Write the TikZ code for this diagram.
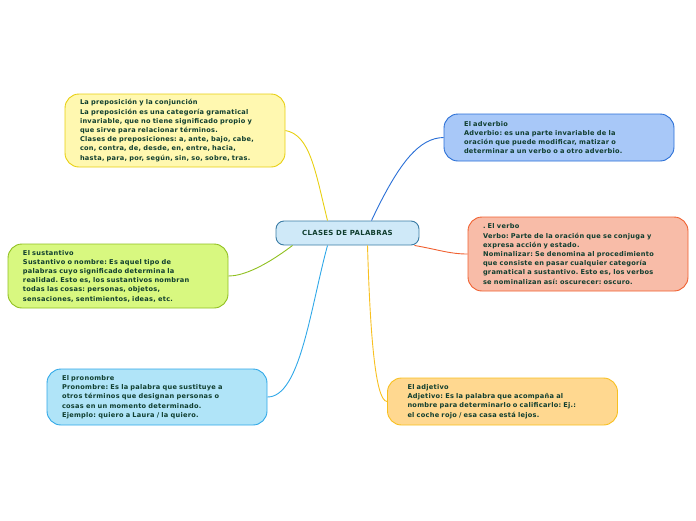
\documentclass[tikz,border=0pt]{standalone}
\usepackage{fontspec}
\setmainfont{DejaVu Sans}[LetterSpace=4]
\begin{document}
\frenchspacing
\begin{tikzpicture}[x=1pt,y=-1pt,
 box/.style={draw,line width=0.9pt,rounded corners=14pt,font=\bfseries\fontsize{6.6}{9.2}\selectfont,align=left,inner xsep=15pt,inner ysep=3pt,anchor=center},
 link/.style={line width=0.9pt}]
\useasboundingbox (0,0) rectangle (696,520);
\definecolor{tc}{HTML}{0F3D2E}
\definecolor{cfill}{HTML}{CFE9F8}\definecolor{cdraw}{HTML}{3A7CA5}
\definecolor{pfill}{HTML}{FFF8B0}\definecolor{pdraw}{HTML}{E8CF10}
\definecolor{afill}{HTML}{A8C8F8}\definecolor{adraw}{HTML}{2A6FD6}
\definecolor{vfill}{HTML}{F8BCA8}\definecolor{vdraw}{HTML}{F06030}
\definecolor{sfill}{HTML}{D8F880}\definecolor{sdraw}{HTML}{90C020}
\definecolor{rfill}{HTML}{B0E4F8}\definecolor{rdraw}{HTML}{30A8E8}
\definecolor{jfill}{HTML}{FFD890}\definecolor{jdraw}{HTML}{F8C020}
\node[box,fill=cfill,draw=cdraw,rounded corners=8pt,minimum width=143pt,minimum height=24pt,inner xsep=4pt,text=tc,font=\bfseries\fontsize{7}{8}\selectfont] (c) at (347.5,233) {CLASES DE PALABRAS};
\node[box,fill=pfill,draw=pdraw,minimum width=214pt,minimum height=73pt,text width=190pt,text=tc] (p) at (175,130.5) {La preposición y la conjunción\\La preposición es una categoría gramatical\\invariable, que no tiene significado propio y\\que sirve para relacionar términos.\\Clases de preposiciones: a, ante, bajo, cabe,\\con, contra, de, desde, en, entre, hacia,\\hasta, para, por, según, sin, so, sobre, tras.};
\node[box,fill=afill,draw=adraw,minimum width=224pt,minimum height=47pt,text width=190pt,inner xsep=20pt,text=tc] (a) at (559,137.5) {El adverbio\\Adverbio: es una parte invariable de la\\oración que puede modificar, matizar o\\determinar a un verbo o a otro adverbio.};
\node[box,fill=vfill,draw=vdraw,minimum width=214pt,minimum height=74pt,text width=190pt,text=tc] (v) at (578,254) {. El verbo\\Verbo: Parte de la oración que se conjuga y\\expresa acción y estado.\\Nominalizar: Se denomina al procedimiento\\que consiste en pasar cualquier categoría\\gramatical a sustantivo. Esto es, los verbos\\se nominalizan así: oscurecer: oscuro.};
\node[box,fill=sfill,draw=sdraw,minimum width=214pt,minimum height=64pt,text width=190pt,text=tc] (s) at (118,276) {El sustantivo\\Sustantivo o nombre: Es aquel tipo de\\palabras cuyo significado determina la\\realidad. Esto es, los sustantivos nombran\\todas las cosas: personas, objetos,\\sensaciones, sentimientos, ideas, etc.};
\node[box,fill=rfill,draw=rdraw,minimum width=214pt,minimum height=56pt,text width=190pt,text=tc] (r) at (157,397) {El pronombre\\Pronombre: Es la palabra que sustituye a\\otros términos que designan personas o\\cosas en un momento determinado.\\Ejemplo: quiero a Laura / la quiero.};
\node[box,fill=jfill,draw=jdraw,minimum width=223pt,minimum height=47pt,text width=190pt,inner xsep=20pt,text=tc] (j) at (502.5,401.5) {El adjetivo\\Adjetivo: Es la palabra que acompaña al\\nombre para determinarlo o calificarlo: Ej.:\\el coche rojo / esa casa está lejos.};
\draw[link,draw=pdraw] (c.north)++(-20,0) .. controls (315,170) and (310,135) .. (p.east);
\draw[link,draw=adraw] (c.north)++(24,0) .. controls (400,160) and (420,138) .. (a.west);
\draw[link,draw=vdraw] (c.south)++(67,0) .. controls (440,250) and (450,254) .. (v.west);
\draw[link,draw=sdraw] (c.south)++(-55,0) .. controls (260,270) and (240,276) .. (s.east);
\draw[link,draw=rdraw] (c.south)++(-20,0) .. controls (310,310) and (300,397) .. (r.east);
\draw[link,draw=jdraw] (c.south)++(20,0) .. controls (370,330) and (375,401) .. (j.west);
\end{tikzpicture}
\end{document}
